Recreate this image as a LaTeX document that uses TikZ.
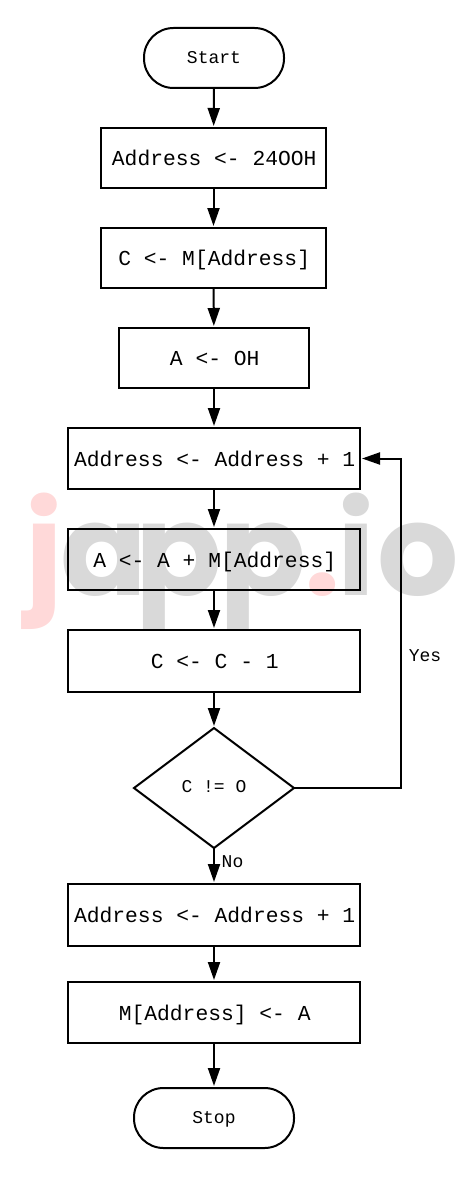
\documentclass[tikz,border=0pt]{standalone}
\usepackage{fontspec}
\setmainfont{Liberation Sans}
\setmonofont{Liberation Mono}
\newfontfamily\wmfont{Poppins}
\usetikzlibrary{arrows.meta,shapes.geometric}
\definecolor{wmgray}{HTML}{D9D9D9}
\definecolor{wmpink}{HTML}{FFD9D9}
\tikzset{
  x=1pt,y=-1pt,
  boxbase/.style={draw=black,line width=2pt,fill=none,inner sep=0pt,outer sep=0pt,anchor=north west},
  proc/.style={boxbase,font=\ttfamily\fontsize{21.3}{24}\selectfont,text height=15pt,text depth=0pt,
    execute at begin node={\hspace*{1.4pt}}},
  term/.style={boxbase,rounded corners=29.5pt,font=\ttfamily\fontsize{18}{22}\selectfont,text height=11.5pt,text depth=0pt},
  decision/.style={draw=none,fill=none,inner sep=0pt,font=\ttfamily\fontsize{18}{22}\selectfont},
  flow/.style={draw=black,line width=2pt,shorten >=2pt,-{Triangle[length=18pt,width=12pt]}},
  lab/.style={font=\ttfamily\fontsize{18}{22}\selectfont,inner sep=0pt},
  wm/.style={font=\wmfont\bfseries\fontsize{128}{128}\selectfont,inner sep=0pt,anchor=base west},
}
\begin{document}
\begin{tikzpicture}
\useasboundingbox (0,0) rectangle (456,1188);
% watermark
\node[wm,text=wmgray] (wm) at (25,595) {\textcolor{wmpink}{j}\kern-2pt a\kern-12pt p\kern-3pt p\kern-2pt\textcolor{wmpink}{.}\kern-3pt i\kern2pt o};
% boxes
\node[term,minimum width=140pt,minimum height=60pt] (start) at (144,28) {Start};
\node[proc,minimum width=225pt,minimum height=60pt] (b1) at (101,128) {Address <- 24OOH};
\node[proc,minimum width=225pt,minimum height=60pt] (b2) at (101,228) {C <- M[Address]};
\node[proc,minimum width=190pt,minimum height=60pt] (b3) at (119,328) {A <- OH};
\node[proc,minimum width=292pt,minimum height=61pt] (b4) at (68,428) {Address <- Address + 1};
\node[proc,minimum width=292pt,minimum height=61pt] (b5) at (68,529) {A <- A + M[Address]};
\node[proc,minimum width=292pt,minimum height=62pt] (b6) at (68,630) {C <- C - 1};
\coordinate (dc) at (214,788);
\coordinate (dt) at (214,728);
\coordinate (dr) at (294,788);
\coordinate (db) at (214,848);
\coordinate (dl) at (134,788);
\draw[line width=2pt,line join=miter] (dt) -- (dr) -- (db) -- (dl) -- cycle;
\node[decision] (d) at (214,787) {C != O};
\node[proc,minimum width=292pt,minimum height=62pt] (b7) at (68,884) {Address <- Address + 1};
\node[proc,minimum width=292pt,minimum height=61pt] (b8) at (68,982) {M[Address] <- A};
\node[term,minimum width=160pt,minimum height=60pt] (stop) at (134,1088) {Stop};
% connectors
\draw[flow] (start) -- (b1);
\draw[flow] (b1) -- (b2);
\draw[flow] (b2) -- (b3);
\draw[flow] (b3) -- (b4);
\draw[flow] (b4) -- (b5);
\draw[flow] (b5) -- (b6);
\draw[flow] (b6) -- (dt);
\draw[flow] (db) -- (b7);
\draw[flow] (b7) -- (b8);
\draw[flow] (b8) -- (stop);
\coordinate (cr) at (401,788);
\draw[flow] (dr) -- (cr) -- (cr|-b4.east) -- (b4.east);
\node[lab] (yes) at (425,655.5) {Yes};
\node[lab] (no) at (232.5,862) {No};
\end{tikzpicture}
\end{document}
